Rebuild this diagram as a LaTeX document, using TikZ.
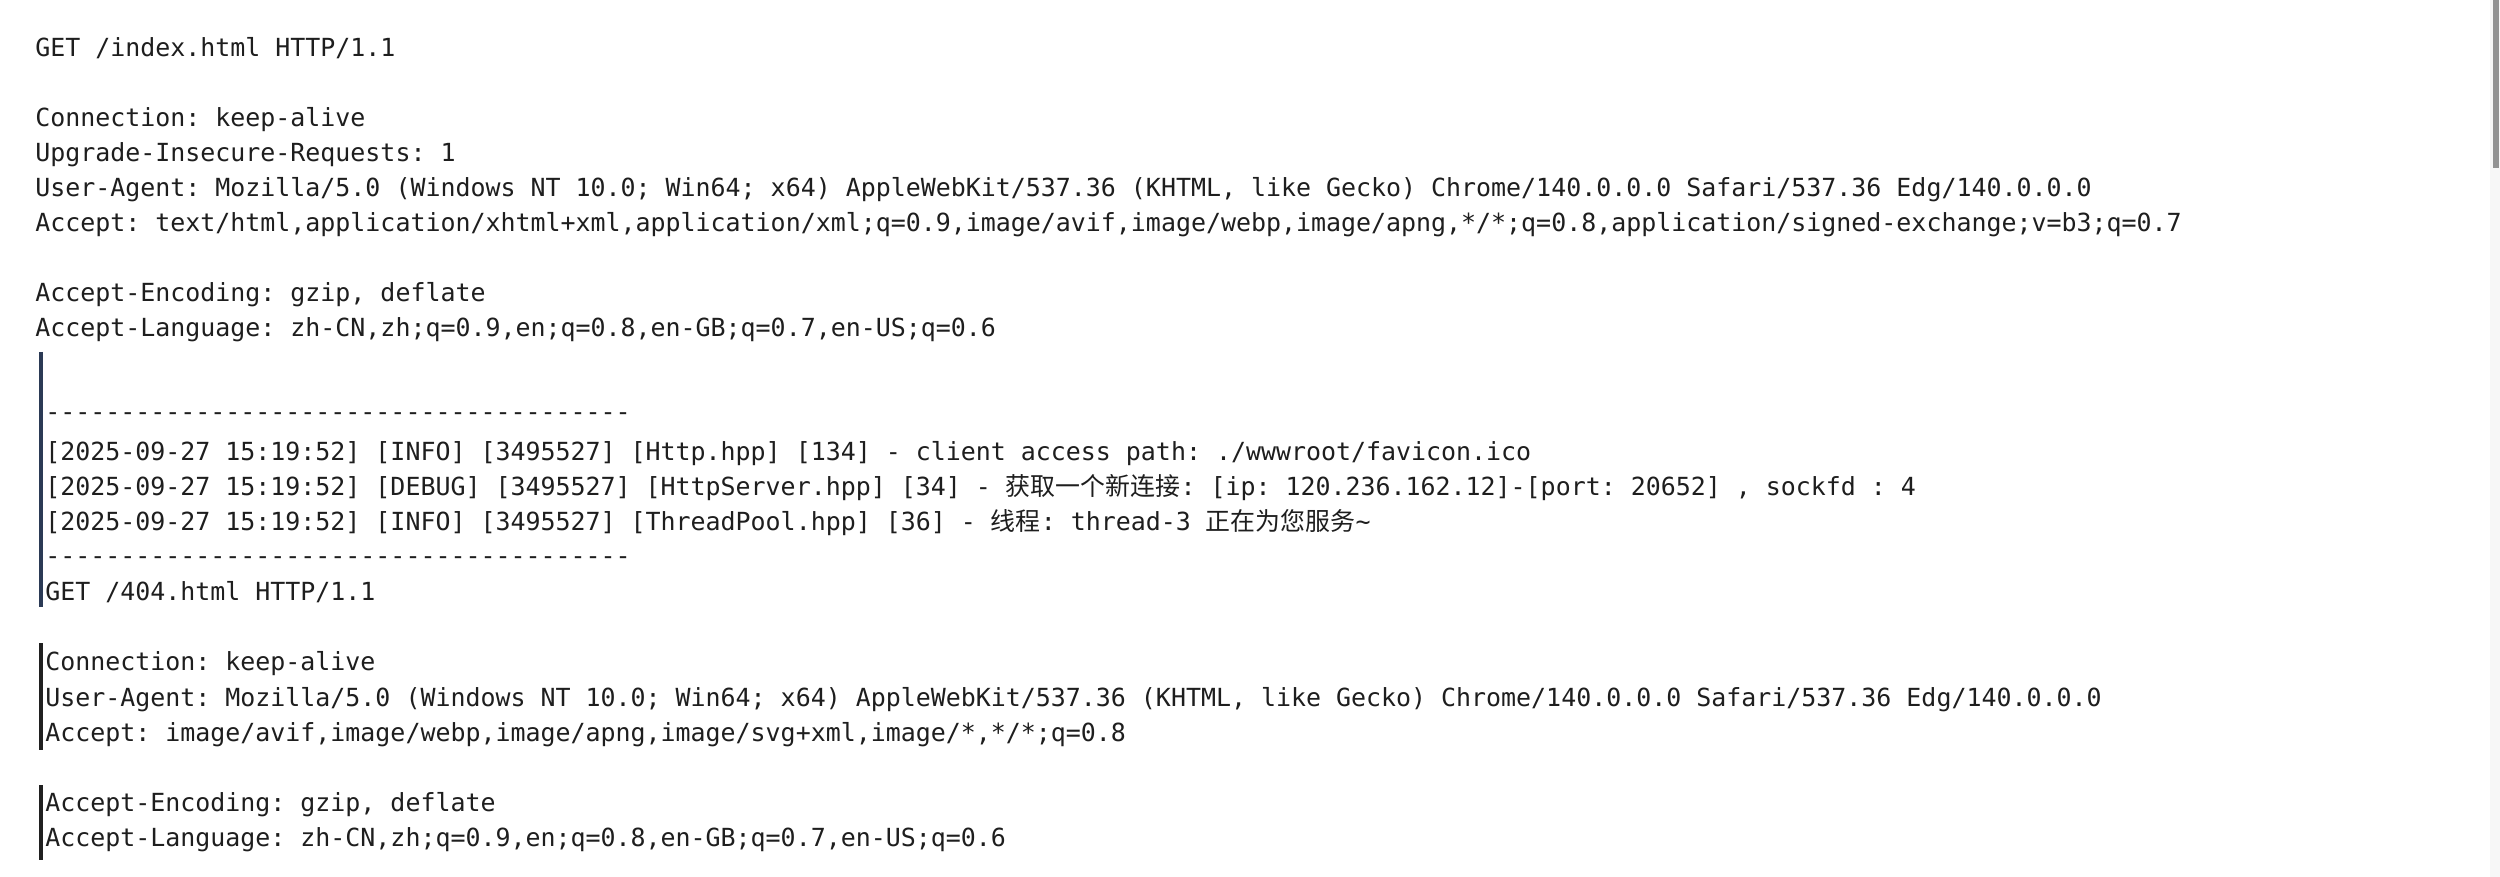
\documentclass[tikz,border=0pt]{standalone}
\usepackage{fontspec}
\setmonofont{DejaVu Sans Mono}
\newfontfamily\cjk{Noto Sans CJK SC}
\definecolor{txt}{HTML}{1E1E1E}
\definecolor{barA}{HTML}{2B3A55}
\definecolor{barB}{HTML}{202020}
\begin{document}
\begin{tikzpicture}[x=0.75pt,y=-0.75pt,
  ln/.style={anchor=base west,inner sep=0pt,font=\ttfamily\fontsize{18.7}{22}\selectfont,text=txt},
  vbar/.style={line width=3pt}]
\useasboundingbox[fill=white] (0,0) rectangle (2500,877);
\fill[black!3] (2490,0) rectangle (2500,877);
\fill[gray!85] (2493,0) rectangle (2499,168);
\def\b{9}
\node[ln] (l1) at (35,47.8+\b) {GET /index.html HTTP/1.1};
\node[ln] (l2) at (35,118+\b) {Connection: keep-alive};
\node[ln] (l3) at (35,153+\b) {Upgrade-Insecure-Requests: 1};
\node[ln] (l4) at (35,188+\b) {User-Agent: Mozilla/5.0 (Windows NT 10.0; Win64; x64) AppleWebKit/537.36 (KHTML, like Gecko) Chrome/140.0.0.0 Safari/537.36 Edg/140.0.0.0};
\node[ln] (l5) at (35,223+\b) {Accept: text/html,application/xhtml+xml,application/xml;q=0.9,image/avif,image/webp,image/apng,*/*;q=0.8,application/signed-exchange;v=b3;q=0.7};
\node[ln] (l6) at (35,293+\b) {Accept-Encoding: gzip, deflate};
\node[ln] (l7) at (35,328+\b) {Accept-Language: zh-CN,zh;q=0.9,en;q=0.8,en-GB;q=0.7,en-US;q=0.6};
\node[ln] (d1) at (45,411+\b) {---------------------------------------};
\node[ln] (g1) at (45,451+\b) {[2025-09-27 15:19:52] [INFO] [3495527] [Http.hpp] [134] - client access path: ./wwwroot/favicon.ico};
\node[ln] (g2) at (45,486+\b) {[2025-09-27 15:19:52] [DEBUG] [3495527] [HttpServer.hpp] [34] - {\cjk 获取一个新连接}: [ip: 120.236.162.12]-[port: 20652] , sockfd : 4};
\node[ln] (g3) at (45,521+\b) {[2025-09-27 15:19:52] [INFO] [3495527] [ThreadPool.hpp] [36] - {\cjk 线程}: thread-3 {\cjk 正在为您服务}\textasciitilde};
\node[ln] (d2) at (45,555+\b) {---------------------------------------};
\node[ln] (m1) at (45,591+\b) {GET /404.html HTTP/1.1};
\node[ln] (m2) at (45,661+\b) {Connection: keep-alive};
\node[ln] (m3) at (45,697+\b) {User-Agent: Mozilla/5.0 (Windows NT 10.0; Win64; x64) AppleWebKit/537.36 (KHTML, like Gecko) Chrome/140.0.0.0 Safari/537.36 Edg/140.0.0.0};
\node[ln] (m4) at (45,732+\b) {Accept: image/avif,image/webp,image/apng,image/svg+xml,image/*,*/*;q=0.8};
\node[ln] (m5) at (45,802+\b) {Accept-Encoding: gzip, deflate};
\node[ln] (m6) at (45,837+\b) {Accept-Language: zh-CN,zh;q=0.9,en;q=0.8,en-GB;q=0.7,en-US;q=0.6};
\draw[vbar,barA] (41,352) -- (41,607);
\draw[vbar,barB] (41,643) -- (41,750);
\draw[vbar,barB] (41,785) -- (41,860);
\end{tikzpicture}
\end{document}
